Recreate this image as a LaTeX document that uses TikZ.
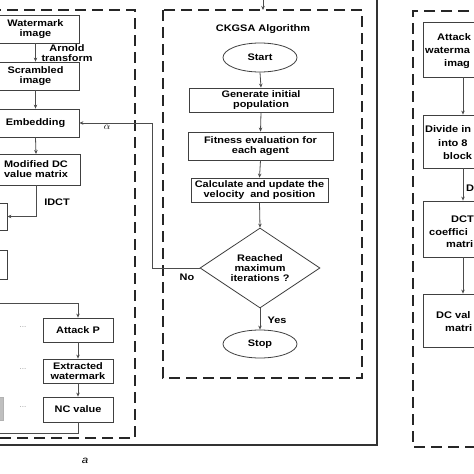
\documentclass[tikz,border=0pt]{standalone}
\usepackage{fontspec}
\setmainfont{Liberation Sans}[FakeStretch=1.15]
\usetikzlibrary{shapes.geometric,arrows.meta}
\begin{document}
\begin{tikzpicture}[x=1pt,y=-1pt,
  box/.style={draw=black!75, line width=0.8pt, fill=white, align=center, inner sep=0pt,
    font=\fontsize{9.5}{10}\selectfont\bfseries},
  lbl/.style={inner sep=0pt, font=\fontsize{9.5}{10}\selectfont\bfseries},
  rtxt/.style={inner sep=0pt, anchor=base west, font=\fontsize{9.6}{13}\selectfont\bfseries},
  conn/.style={draw=black!70, line width=0.8pt},
  arr/.style={conn, -{Stealth[length=4pt,width=3.5pt]}},
  dbox/.style={draw=black!85, line width=1.3pt, dash pattern=on 11pt off 6pt},
  frame/.style={draw=black!80, line width=1.2pt},
  dots/.style={inner sep=0pt, text=black!45, font=\fontsize{7}{8}\selectfont}]
\useasboundingbox (0,0) rectangle (474,474);
\clip (0,0) rectangle (474,474);
\fill[white] (0,0) rectangle (474,474);

% outer solid frame
\draw[frame] (377,-10) -- (377,445) -- (-10,445);
% dashed boxes
\draw[dbox] (-10,10) -- (135,10) -- (135,438) -- (-10,438);
\draw[dbox] (163,10) rectangle (362,378);
\draw[dbox] (520,11) -- (413,11) -- (413,447) -- (520,447);

% ---------- left column ----------
\node[box, minimum width=87pt, minimum height=28pt] (wm) at (35.5,29) {Watermark\\image};
\node[box, minimum width=87pt, minimum height=28pt] (scr) at (35.5,76) {Scrambled\\image};
\node[box, minimum width=87pt, minimum height=28pt] (emb) at (35.5,123) {Embedding};
\node[box, minimum width=88pt, minimum height=31pt] (mdc) at (36,169.5) {Modified DC\\value matrix};
\node[box, minimum width=27pt, minimum height=27pt] (lb1) at (-6.5,216.5) {};
\node[box, minimum width=27pt, minimum height=29pt] (lb2) at (-6.5,264.5) {};
\node[draw=black!30, fill=black!25, minimum width=23pt, minimum height=23pt, inner sep=0pt] (gb) at (-8.5,408.5) {};
\node[box, minimum width=70pt, minimum height=24pt] (atp) at (78,330) {Attack P};
\node[box, minimum width=70pt, minimum height=24pt] (ext) at (78,371) {Extracted\\watermark};
\node[box, minimum width=70pt, minimum height=25pt] (nc) at (78,409.5) {NC value};

\node[lbl, align=center] (arn) at (67,53) {Arnold\\transform};
\node[lbl] (idct) at (57,202) {IDCT};
\node[inner sep=0pt, font=\fontsize{10}{11}\selectfont] (alp) at (107,127) {$\alpha$};
\node[dots] (d1) at (23,327) {...};
\node[dots] (d2) at (23,369) {...};
\node[dots] (d3) at (23,407) {...};
\node[inner sep=0pt, font=\fontsize{10}{12}\selectfont\itshape] (lba) at (85,461) {a};

\draw[arr] (wm.south) -- (scr.north);
\draw[arr] (scr.south) -- (emb.north);
\draw[arr] (emb.south) -- (mdc.south |- 0,154);
\draw[arr] (mdc.south) |- (lb1.east);
\coordinate (ain) at (-12,303);
\draw[arr] (ain) -| (atp.north);
\draw[arr] (atp.south) -- (ext.north);
\draw[arr] (ext.south) -- (nc.north);
\coordinate (aout) at (-12,433);
\draw[conn] (nc.south) |- (aout);

% ---------- middle (CKGSA) ----------
\node[lbl] (title) at (263,29) {CKGSA Algorithm};
\node[box, ellipse, minimum width=74pt, minimum height=29pt] (start) at (260,57.5) {Start};
\node[box, minimum width=144pt, minimum height=24pt] (gen) at (261,100) {Generate initial\\population};
\node[box, minimum width=145pt, minimum height=28pt] (fit) at (260.5,146) {Fitness evaluation for\\each agent};
\node[box, minimum width=137pt, minimum height=24pt] (calc) at (259.5,190) {Calculate and update the\\velocity\ \ and position};
\node[box, diamond, shape aspect=1.5, minimum width=120pt, minimum height=80pt] (dec) at (260,268) {Reached\\maximum\\iterations ?};
\node[box, ellipse, minimum width=74pt, minimum height=28pt] (stop) at (260,344) {Stop};
\node[lbl] (no) at (187,277) {No};
\node[lbl] (yes) at (277,320) {Yes};

\coordinate (tin) at (263,-6);
\coordinate (ttop) at (263,10);
\draw[arr] (tin) -- (ttop);
\draw[arr] (start.south) -- (gen.north);
\draw[arr] (gen.south) -- (fit.north);
\draw[arr] (fit.south) -- (calc.north);
\draw[arr] (calc.south) -- (dec.north);
\draw[arr] (dec.south) -- (stop.north);
\coordinate (nocorner) at (152,268);
\draw[arr] (dec.west) -- (nocorner) |- (emb.east);

% ---------- right column ----------
\node[box, minimum width=97pt, minimum height=55pt] (atk) at (471.5,49.5) {};
\node[box, minimum width=97pt, minimum height=53pt] (div) at (471.5,141.5) {};
\node[box, minimum width=97pt, minimum height=56pt] (dct) at (471.5,229) {};
\node[box, minimum width=97pt, minimum height=53pt] (dcv) at (471.5,320.5) {};
\draw[arr] (atk.south -| 463,0) -- (div.north -| 463,0);
\draw[arr] (div.south -| 463,0) -- (dct.north -| 463,0);
\draw[arr] (dct.south -| 463,0) -- (dcv.north -| 463,0);

\node[rtxt] (r1) at (437,40) {Attack};
\node[rtxt] (r2) at (425,53) {waterma};
\node[rtxt] (r3) at (444,66) {imag};
\node[rtxt] (r4) at (425,132) {Divide in};
\node[rtxt] (r5) at (438,146) {into 8};
\node[rtxt] (r6) at (443,159) {block};
\node[rtxt] (r7) at (466,191) {D};
\node[rtxt] (r8) at (451,222) {DCT};
\node[rtxt] (r9) at (429,235) {coeffici};
\node[rtxt] (r10) at (446,247) {matri};
\node[rtxt] (r11) at (436,318) {DC val};
\node[rtxt] (r12) at (445,331) {matri};
\end{tikzpicture}
\end{document}
